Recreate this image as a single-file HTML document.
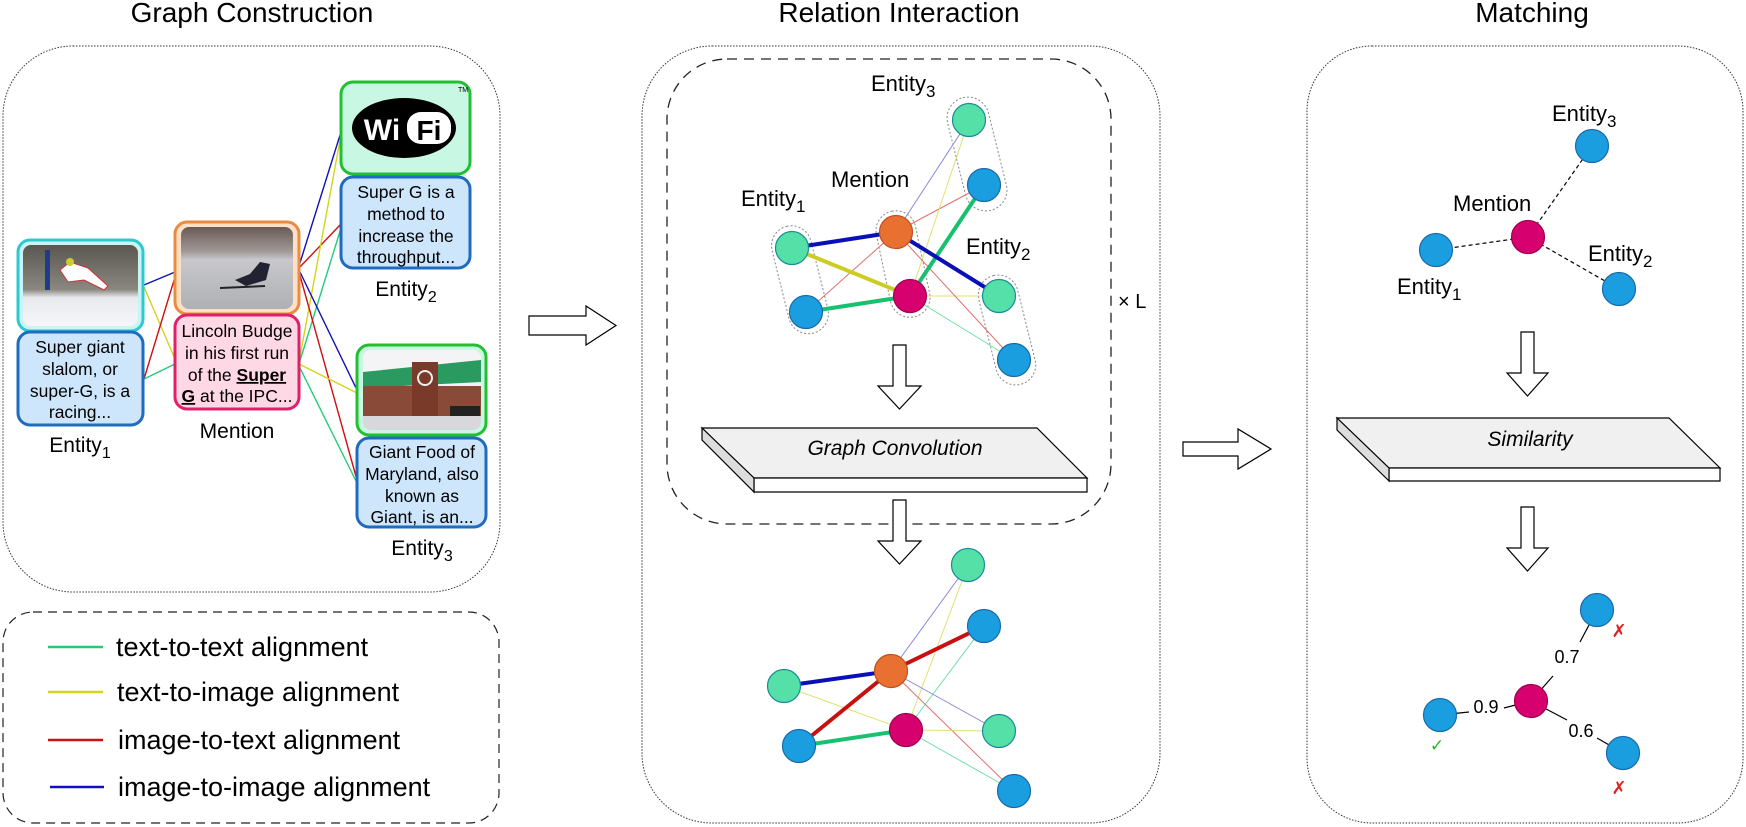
<!DOCTYPE html>
<html><head><meta charset="utf-8"><style>
html,body{margin:0;padding:0;background:#fff}
svg{display:block}
text{font-family:"Liberation Sans",sans-serif;fill:#000}
</style></head><body>
<svg width="1746" height="827" viewBox="0 0 1746 827" xmlns="http://www.w3.org/2000/svg">
<defs>
<clipPath id="c1"><rect x="23" y="245" width="115" height="81" rx="8"/></clipPath>
<clipPath id="c2"><rect x="181" y="227" width="112" height="82" rx="8"/></clipPath>
<clipPath id="c3"><rect x="363" y="350" width="118" height="80" rx="8"/></clipPath>
<linearGradient id="sky1" x1="0" y1="0" x2="0" y2="1"><stop offset="0" stop-color="#5a5650"/><stop offset="0.55" stop-color="#8a8880"/><stop offset="0.65" stop-color="#e8eaee"/><stop offset="1" stop-color="#f5f6f8"/></linearGradient>
<linearGradient id="sky2" x1="0" y1="0" x2="0" y2="1"><stop offset="0" stop-color="#6a5a55"/><stop offset="0.3" stop-color="#a09a98"/><stop offset="0.4" stop-color="#c8c8cc"/><stop offset="1" stop-color="#aeb0b4"/></linearGradient>
</defs>

<!-- Titles -->
<text x="252" y="22" font-size="28" text-anchor="middle">Graph Construction</text>
<text x="899" y="22" font-size="28" text-anchor="middle">Relation Interaction</text>
<text x="1532" y="22" font-size="28" text-anchor="middle">Matching</text>

<!-- Panels -->
<rect x="3" y="46" width="497" height="546" rx="70" fill="none" stroke="#333" stroke-width="1" stroke-dasharray="1.5,1.5"/>
<rect x="3" y="612" width="496" height="211" rx="30" fill="none" stroke="#222" stroke-width="1.2" stroke-dasharray="9,6"/>
<rect x="642" y="46" width="518" height="777" rx="70" fill="none" stroke="#333" stroke-width="1" stroke-dasharray="1.5,1.5"/>
<rect x="667" y="59" width="444" height="465" rx="60" fill="none" stroke="#222" stroke-width="1.3" stroke-dasharray="10,7"/>
<rect x="1307" y="46" width="436" height="777" rx="65" fill="none" stroke="#333" stroke-width="1" stroke-dasharray="1.5,1.5"/>

<!-- Legend -->
<g stroke-width="2.5">
<line x1="48" y1="647" x2="103" y2="647" stroke="#22cc77"/>
<line x1="48" y1="692" x2="103" y2="692" stroke="#d4d41a"/>
<line x1="48" y1="740" x2="103" y2="740" stroke="#cc1111"/>
<line x1="50" y1="787" x2="104" y2="787" stroke="#1111bb"/>
</g>
<g font-size="27">
<text x="116" y="656">text-to-text alignment</text>
<text x="117" y="701">text-to-image alignment</text>
<text x="118" y="749">image-to-text alignment</text>
<text x="118" y="796">image-to-image alignment</text>
</g>

<!-- Left panel connections -->
<g stroke-width="1.4" fill="none">
<line x1="144" y1="285" x2="175" y2="272" stroke="#1111bb"/>
<line x1="144" y1="287" x2="175" y2="359" stroke="#d4d41a"/>
<line x1="144" y1="379" x2="175" y2="277" stroke="#cc1111"/>
<line x1="144" y1="379" x2="175" y2="364" stroke="#22cc77"/>
<line x1="299" y1="266" x2="341" y2="132" stroke="#1111bb"/>
<line x1="299" y1="268" x2="341" y2="224" stroke="#cc1111"/>
<line x1="299" y1="362" x2="341" y2="135" stroke="#d4d41a"/>
<line x1="299" y1="364" x2="341" y2="228" stroke="#22cc77"/>
<line x1="299" y1="270" x2="357" y2="390" stroke="#1111bb"/>
<line x1="299" y1="272" x2="357" y2="480" stroke="#cc1111"/>
<line x1="299" y1="364" x2="357" y2="393" stroke="#d4d41a"/>
<line x1="299" y1="366" x2="357" y2="483" stroke="#22cc77"/>
</g>

<!-- Entity1 -->
<rect x="18" y="240" width="125" height="91" rx="12" fill="#c8f4f4" stroke="#30c8d0" stroke-width="3"/>
<g clip-path="url(#c1)"><rect x="23" y="245" width="115" height="81" fill="url(#sky1)"/>
<rect x="45" y="250" width="5" height="40" fill="#223a8a"/><path d="M60 270 l10 -8 l18 6 l20 18 l-4 4 l-20 -10 l-16 2 z" fill="#fff" stroke="#c33" stroke-width="1"/><circle cx="70" cy="262" r="4" fill="#cc3"/></g>
<rect x="18" y="332" width="125" height="93" rx="12" fill="#cde6fb" stroke="#1e6bc0" stroke-width="3"/>
<g font-size="17.5" text-anchor="middle">
<text x="80" y="353">Super giant</text><text x="80" y="375">slalom, or</text><text x="80" y="397">super-G, is a</text><text x="80" y="418">racing...</text>
</g>
<text x="80" y="452" font-size="21" text-anchor="middle">Entity<tspan font-size="16" dy="6">1</tspan></text>

<!-- Mention -->
<rect x="175" y="222" width="124" height="92" rx="12" fill="#fde0c6" stroke="#e98b40" stroke-width="3"/>
<g clip-path="url(#c2)"><rect x="181" y="227" width="112" height="82" fill="url(#sky2)"/>
<path d="M235 280 l15 -6 l10 -12 l10 2 l-4 16 l-20 6 z" fill="#223"/><line x1="220" y1="288" x2="265" y2="286" stroke="#222" stroke-width="2"/></g>
<rect x="175" y="315" width="124" height="94" rx="12" fill="#ffd8e6" stroke="#e0206a" stroke-width="3"/>
<g font-size="17.5" text-anchor="middle">
<text x="237" y="337">Lincoln Budge</text><text x="237" y="359">in his first run</text>
<text x="237" y="381">of the <tspan font-weight="bold" text-decoration="underline">Super</tspan></text>
<text x="237" y="402"><tspan font-weight="bold" text-decoration="underline">G</tspan> at the IPC...</text>
</g>
<text x="237" y="438" font-size="21" text-anchor="middle">Mention</text>

<!-- Entity2 -->
<rect x="341" y="82" width="129" height="92" rx="12" fill="#c8f8e4" stroke="#20c030" stroke-width="3"/>
<ellipse cx="404" cy="128" rx="52" ry="30" fill="#000"/>
<text x="382" y="140" font-size="30" font-weight="bold" style="fill:#fff" text-anchor="middle">Wi</text>
<rect x="407" y="112" width="44" height="32" rx="14" fill="#fff"/>
<text x="429" y="140" font-size="28" font-weight="bold" text-anchor="middle">Fi</text>
<text x="458" y="92" font-size="7">TM</text>
<rect x="341" y="177" width="129" height="91" rx="12" fill="#cde6fb" stroke="#1e6bc0" stroke-width="3"/>
<g font-size="17.5" text-anchor="middle">
<text x="406" y="198">Super G is a</text><text x="406" y="220">method to</text><text x="406" y="242">increase the</text><text x="406" y="263">throughput...</text>
</g>
<text x="406" y="296" font-size="21" text-anchor="middle">Entity<tspan font-size="16" dy="6">2</tspan></text>

<!-- Entity3 -->
<rect x="357" y="345" width="129" height="90" rx="12" fill="#c8f8e4" stroke="#20c030" stroke-width="3"/>
<g clip-path="url(#c3)"><rect x="363" y="350" width="118" height="80" fill="#f4f4f6"/>
<path d="M363 372 L481 360 L481 382 L363 388 Z" fill="#2a9a60"/>
<rect x="363" y="386" width="118" height="30" fill="#8a4a38"/>
<rect x="412" y="362" width="26" height="54" fill="#7a3a2a"/><circle cx="425" cy="378" r="7" fill="none" stroke="#eee" stroke-width="2"/>
<rect x="363" y="416" width="118" height="14" fill="#d8d8dc"/><rect x="450" y="406" width="30" height="10" fill="#222"/></g>
<rect x="357" y="438" width="129" height="89" rx="12" fill="#cde6fb" stroke="#1e6bc0" stroke-width="3"/>
<g font-size="17.5" text-anchor="middle">
<text x="422" y="458">Giant Food of</text><text x="422" y="480">Maryland, also</text><text x="422" y="502">known as</text><text x="422" y="523">Giant, is an...</text>
</g>
<text x="422" y="555" font-size="21" text-anchor="middle">Entity<tspan font-size="16" dy="6">3</tspan></text>

<!-- Right arrows -->
<path d="M529 316 L586 316 L586 306 L616 325.5 L586 345 L586 335 L529 335 Z" fill="#fff" stroke="#000" stroke-width="1.2"/>
<path d="M1183 442 L1238 442 L1238 429 L1271 449 L1238 469 L1238 456 L1183 456 Z" fill="#fff" stroke="#000" stroke-width="1.2"/>

<!-- Middle top graph: capsules -->
<g fill="none" stroke="#888" stroke-width="1" stroke-dasharray="2,2">
<rect x="780" y="225" width="40" height="110" rx="20" transform="rotate(-14 799 280)"/>
<rect x="883" y="210" width="40" height="108" rx="20" transform="rotate(-12 903 264)"/>
<rect x="956" y="96" width="42" height="116" rx="21" transform="rotate(-14 977 154)"/>
<rect x="987" y="274" width="40" height="112" rx="20" transform="rotate(-14 1007 330)"/>
</g>
<!-- Middle top edges -->
<g fill="none">
<line x1="896" y1="232" x2="969" y2="120" stroke="#8888dd" stroke-width="1"/>
<line x1="896" y1="232" x2="984" y2="185" stroke="#e07070" stroke-width="1"/>
<line x1="910" y1="296" x2="969" y2="120" stroke="#e0e070" stroke-width="1"/>
<line x1="896" y1="232" x2="806" y2="312" stroke="#e07070" stroke-width="1"/>
<line x1="910" y1="296" x2="999" y2="296" stroke="#e0e070" stroke-width="1"/>
<line x1="910" y1="296" x2="1014" y2="360" stroke="#70e0a8" stroke-width="1"/>
<line x1="896" y1="232" x2="1014" y2="360" stroke="#e07070" stroke-width="1"/>
<line x1="792" y1="248" x2="896" y2="232" stroke="#0a10b8" stroke-width="4"/>
<line x1="792" y1="248" x2="910" y2="296" stroke="#cccc22" stroke-width="4"/>
<line x1="806" y1="312" x2="910" y2="296" stroke="#18c070" stroke-width="4"/>
<line x1="910" y1="296" x2="984" y2="185" stroke="#18c070" stroke-width="4"/>
<line x1="896" y1="232" x2="999" y2="296" stroke="#0a10b8" stroke-width="4"/>
</g>
<g stroke-width="1.2">
<circle cx="969" cy="120" r="16.5" fill="#55e0a8" stroke="#1a8a9a"/>
<circle cx="984" cy="185" r="16.5" fill="#1a9ee0" stroke="#1a6aaa"/>
<circle cx="896" cy="232" r="16.5" fill="#e87030" stroke="#c05020"/>
<circle cx="910" cy="296" r="16.5" fill="#d6006e" stroke="#a00050"/>
<circle cx="792" cy="248" r="16.5" fill="#55e0a8" stroke="#1a8a9a"/>
<circle cx="806" cy="312" r="16.5" fill="#1a9ee0" stroke="#1a6aaa"/>
<circle cx="999" cy="296" r="16.5" fill="#55e0a8" stroke="#1a8a9a"/>
<circle cx="1014" cy="360" r="16.5" fill="#1a9ee0" stroke="#1a6aaa"/>
</g>
<g font-size="22">
<text x="871" y="91">Entity<tspan font-size="17" dy="6">3</tspan></text>
<text x="831" y="187">Mention</text>
<text x="741" y="206">Entity<tspan font-size="17" dy="6">1</tspan></text>
<text x="966" y="254">Entity<tspan font-size="17" dy="6">2</tspan></text>
</g>
<text x="1118" y="308" font-size="20">× L</text>

<!-- down arrows middle -->
<path d="M893 345 L906 345 L906 386 L921 386 L899.5 409 L878 386 L893 386 Z" fill="#fff" stroke="#000" stroke-width="1.2"/>
<path d="M893 500 L906 500 L906 541 L921 541 L899.5 564 L878 541 L893 541 Z" fill="#fff" stroke="#000" stroke-width="1.2"/>

<!-- Graph Convolution slab -->
<path d="M702 428 L1037 428 L1087 478 L754 478 Z" fill="#f0f0f0" stroke="#000" stroke-width="1.2"/>
<path d="M754 478 L1087 478 L1087 492 L754 492 Z" fill="#fff" stroke="#000" stroke-width="1.2"/>
<path d="M702 428 L754 478 L754 492 L702 440 Z" fill="#ddd" stroke="#000" stroke-width="1.2"/>
<text x="895" y="455" font-size="21" font-style="italic" text-anchor="middle">Graph Convolution</text>

<!-- Middle bottom graph -->
<g fill="none">
<line x1="891" y1="671" x2="968" y2="565" stroke="#8888dd" stroke-width="1"/>
<line x1="906" y1="730" x2="968" y2="565" stroke="#e0e070" stroke-width="1"/>
<line x1="906" y1="730" x2="984" y2="626" stroke="#70e0a8" stroke-width="1"/>
<line x1="784" y1="686" x2="906" y2="730" stroke="#e0e070" stroke-width="1"/>
<line x1="891" y1="671" x2="999" y2="731" stroke="#8888dd" stroke-width="1"/>
<line x1="891" y1="671" x2="1014" y2="791" stroke="#e07070" stroke-width="1"/>
<line x1="906" y1="730" x2="999" y2="731" stroke="#e0e070" stroke-width="1"/>
<line x1="906" y1="730" x2="1014" y2="791" stroke="#70e0a8" stroke-width="1"/>
<line x1="784" y1="686" x2="891" y2="671" stroke="#0a10b8" stroke-width="4"/>
<line x1="891" y1="671" x2="984" y2="626" stroke="#c81010" stroke-width="4"/>
<line x1="891" y1="671" x2="799" y2="746" stroke="#c81010" stroke-width="4"/>
<line x1="799" y1="746" x2="906" y2="730" stroke="#18c070" stroke-width="4"/>
</g>
<g stroke-width="1.2">
<circle cx="968" cy="565" r="16.5" fill="#55e0a8" stroke="#1a8a9a"/>
<circle cx="984" cy="626" r="16.5" fill="#1a9ee0" stroke="#1a6aaa"/>
<circle cx="891" cy="671" r="16.5" fill="#e87030" stroke="#c05020"/>
<circle cx="784" cy="686" r="16.5" fill="#55e0a8" stroke="#1a8a9a"/>
<circle cx="799" cy="746" r="16.5" fill="#1a9ee0" stroke="#1a6aaa"/>
<circle cx="906" cy="730" r="16.5" fill="#d6006e" stroke="#a00050"/>
<circle cx="999" cy="731" r="16.5" fill="#55e0a8" stroke="#1a8a9a"/>
<circle cx="1014" cy="791" r="16.5" fill="#1a9ee0" stroke="#1a6aaa"/>
</g>

<!-- Matching top graph -->
<g stroke="#000" stroke-width="1.2" stroke-dasharray="4,3">
<line x1="1528" y1="237" x2="1592" y2="146"/>
<line x1="1528" y1="237" x2="1436" y2="250"/>
<line x1="1528" y1="237" x2="1619" y2="289"/>
</g>
<g stroke-width="1.2">
<circle cx="1592" cy="146" r="16.5" fill="#1a9ee0" stroke="#1a6aaa"/>
<circle cx="1528" cy="237" r="16.5" fill="#d6006e" stroke="#a00050"/>
<circle cx="1436" cy="250" r="16.5" fill="#1a9ee0" stroke="#1a6aaa"/>
<circle cx="1619" cy="289" r="16.5" fill="#1a9ee0" stroke="#1a6aaa"/>
</g>
<g font-size="22">
<text x="1552" y="121">Entity<tspan font-size="17" dy="6">3</tspan></text>
<text x="1453" y="211">Mention</text>
<text x="1397" y="294">Entity<tspan font-size="17" dy="6">1</tspan></text>
<text x="1588" y="261">Entity<tspan font-size="17" dy="6">2</tspan></text>
</g>

<!-- down arrows right -->
<path d="M1521 332 L1534 332 L1534 373 L1548 373 L1527.5 396 L1507 373 L1521 373 Z" fill="#fff" stroke="#000" stroke-width="1.2"/>
<path d="M1521 507 L1534 507 L1534 548 L1548 548 L1527.5 571 L1507 548 L1521 548 Z" fill="#fff" stroke="#000" stroke-width="1.2"/>

<!-- Similarity slab -->
<path d="M1337 418 L1669 418 L1720 468 L1389 468 Z" fill="#f0f0f0" stroke="#000" stroke-width="1.2"/>
<path d="M1389 468 L1720 468 L1720 481 L1389 481 Z" fill="#fff" stroke="#000" stroke-width="1.2"/>
<path d="M1337 418 L1389 468 L1389 481 L1337 430 Z" fill="#ddd" stroke="#000" stroke-width="1.2"/>
<text x="1530" y="446" font-size="21" font-style="italic" text-anchor="middle">Similarity</text>

<!-- Matching bottom graph -->
<g stroke="#000" stroke-width="1.2">
<line x1="1531" y1="701" x2="1553" y2="676"/><line x1="1580" y1="642" x2="1597" y2="610"/>
<line x1="1440" y1="715" x2="1469" y2="712"/><line x1="1504" y1="708" x2="1531" y2="701"/>
<line x1="1531" y1="701" x2="1567" y2="720"/><line x1="1597" y1="738" x2="1623" y2="753"/>
</g>
<g stroke-width="1.2">
<circle cx="1597" cy="610" r="16.5" fill="#1a9ee0" stroke="#1a6aaa"/>
<circle cx="1531" cy="701" r="16.5" fill="#d6006e" stroke="#a00050"/>
<circle cx="1440" cy="715" r="16.5" fill="#1a9ee0" stroke="#1a6aaa"/>
<circle cx="1623" cy="753" r="16.5" fill="#1a9ee0" stroke="#1a6aaa"/>
</g>
<g font-size="18" text-anchor="middle">
<text x="1567" y="663">0.7</text>
<text x="1486" y="713">0.9</text>
<text x="1581" y="737">0.6</text>
</g>
<text x="1619" y="637" font-size="18" text-anchor="middle" style="fill:#e02020">✗</text>
<text x="1619" y="794" font-size="18" text-anchor="middle" style="fill:#e02020">✗</text>
<text x="1437" y="751" font-size="17" text-anchor="middle" style="fill:#22bb22">✓</text>
</svg>
</body></html>
